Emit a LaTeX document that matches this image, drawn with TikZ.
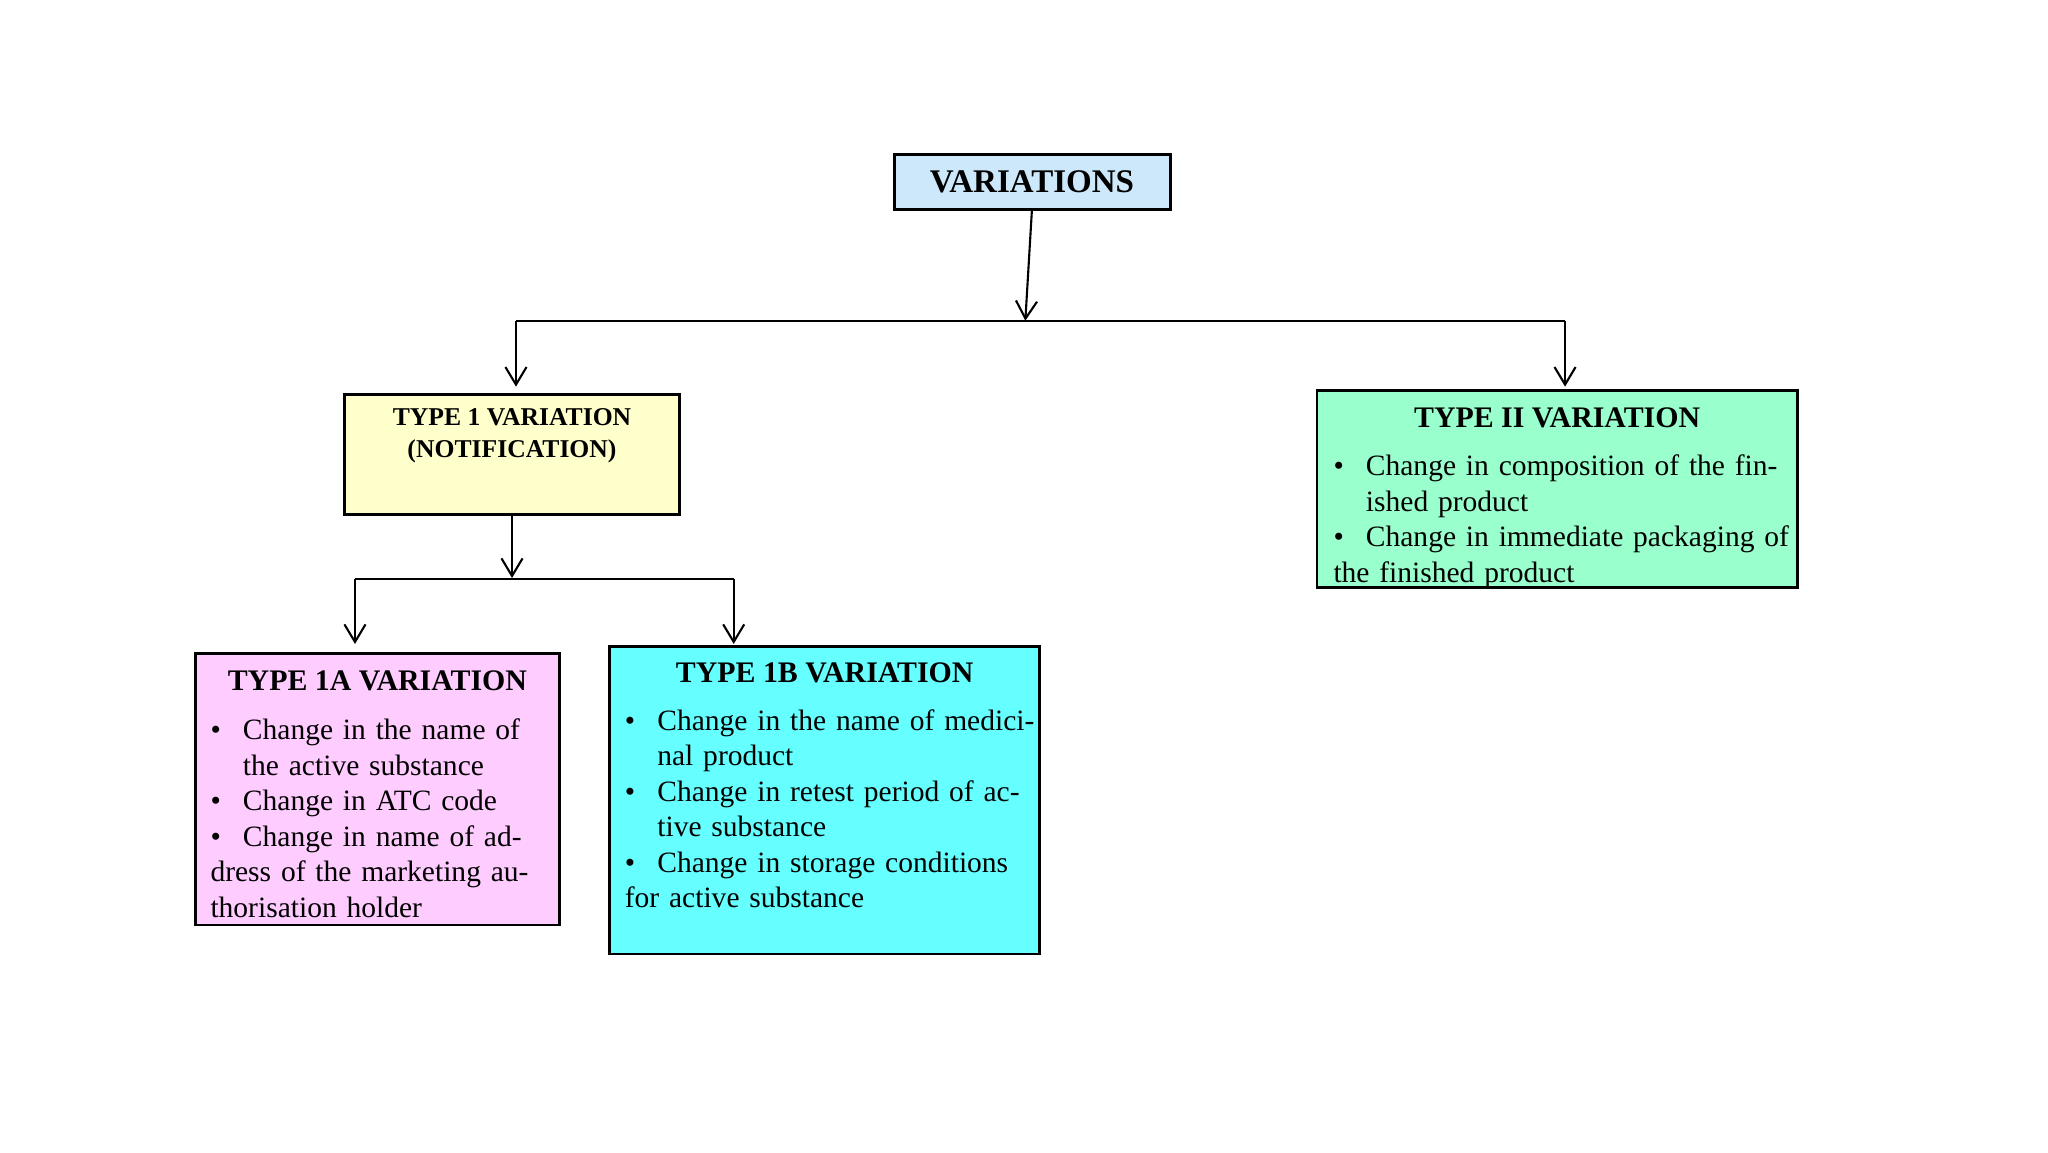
\documentclass[tikz,border=0pt]{standalone}
\usepackage{fontspec}
\setmainfont{Liberation Serif}
\usetikzlibrary{arrows.meta}
\newcommand\bul[1]{\par\hangindent=1.1em\hangafter=1\noindent\makebox[1.1em][l]{\textbullet}#1}
\begin{document}
\begin{tikzpicture}[x=0.0132cm,y=-0.0132cm,
  box/.style={draw,line width=0.8pt,inner sep=0},
  body/.style={anchor=north west,inner sep=0,align=left,font=\fontsize{8.4}{10.1}\selectfont},
  ttl/.style={inner sep=0,font=\bfseries\fontsize{8.5}{10}\selectfont},
  arr/.style={-{Straight Barb[length=5pt,width=6pt]},line width=0.6pt},
  ln/.style={line width=0.6pt}]
\useasboundingbox (0,0) rectangle (1552,873);
\definecolor{cv}{RGB}{204,232,250}\definecolor{cy}{RGB}{255,255,204}
\definecolor{cg}{RGB}{153,255,204}\definecolor{cp}{RGB}{255,204,255}
\definecolor{cc}{RGB}{102,255,255}
\draw[box,fill=cv] (678,117) rectangle (887,159);
\node[inner sep=0,font=\bfseries\fontsize{9.4}{11}\selectfont] (v) at (782,138) {VARIATIONS};
\draw[box,fill=cy] (261,299) rectangle (515,390);
\node[inner sep=0,align=center,font=\bfseries\fontsize{7.3}{9}\selectfont] (t1) at (388,330) {TYPE 1 VARIATION\\(NOTIFICATION)};
\draw[box,fill=cg] (998,296) rectangle (1362,445);
\node[ttl] (t2) at (1180,317) {TYPE II VARIATION};
\node[body,text width=4.7cm] (t2b) at (1010,333) {\bul{Change in composition of the finished product}\bul{Change in immediate packaging of the finished product}};
\draw[box,fill=cp] (148,495) rectangle (424,701);
\node[ttl] (a) at (286,516) {TYPE 1A VARIATION};
\node[body,text width=3.55cm] (ab) at (159,533) {\bul{Change in the name of the active substance}\bul{Change in ATC code}\bul{Change in name of address of the marketing authorisation holder}};
\draw[box,fill=cc] (462,490) rectangle (788,723);
\node[ttl] (b) at (625,510) {TYPE 1B VARIATION};
\node[body,text width=4.1cm] (bb) at (473,526) {\bul{Change in the name of medicinal product}\bul{Change in retest period of active substance}\bul{Change in storage conditions for active substance}};
\coordinate (v0) at (782,159); \coordinate (j1) at (777,243);
\coordinate (l1) at (391,243); \coordinate (r1) at (1186,243);
\coordinate (l1e) at (391,293); \coordinate (r1e) at (1186,293);
\coordinate (t0) at (388,390); \coordinate (j2) at (388,438);
\coordinate (l2) at (269,439); \coordinate (r2) at (556,439);
\coordinate (l2e) at (269,488); \coordinate (r2e) at (556,488);
\draw[arr] (v0) -- (j1);
\draw[ln] (l1) -- (r1);
\draw[arr] (l1) -- (l1e); \draw[arr] (r1) -- (r1e);
\draw[arr] (t0) -- (j2);
\draw[ln] (l2) -- (r2);
\draw[arr] (l2) -- (l2e); \draw[arr] (r2) -- (r2e);
\end{tikzpicture}
\end{document}
